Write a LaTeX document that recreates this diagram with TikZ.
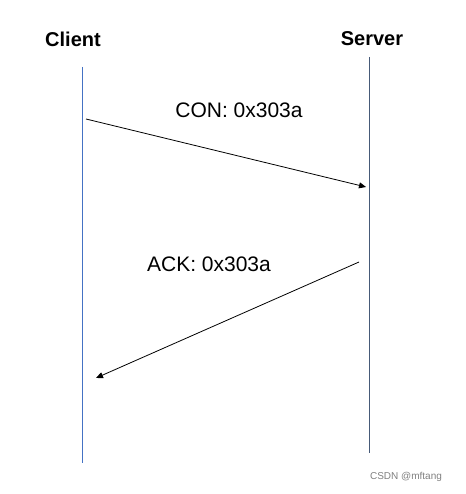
\documentclass[tikz,border=0pt]{standalone}
\usepackage{fontspec}
\setmainfont{Liberation Sans}
\usetikzlibrary{arrows.meta}
\definecolor{clientblue}{RGB}{68,114,196}
\definecolor{serverblue}{RGB}{70,90,120}
\begin{document}
\begin{tikzpicture}[x=1pt,y=-1pt,
  title/.style={font=\fontsize{20}{24}\selectfont\bfseries, inner sep=0pt},
  msglabel/.style={font=\fontsize{21}{25}\selectfont, inner sep=0pt},
  msg/.style={line width=0.8pt, -{Triangle[length=7pt,width=6pt]}},
  lifeline/.style={line width=0.9pt}]
\useasboundingbox (0,0) rectangle (465,494);
\node[title] (client) at (73,39) {Client};
\node[title] (server) at (372,39) {Server};
\coordinate (ctop) at (82,67);
\coordinate (cbot) at (82,463);
\coordinate (stop) at (369,57);
\coordinate (sbot) at (369,453);
\draw[lifeline, clientblue] (ctop) -- (cbot);
\draw[lifeline, serverblue] (stop) -- (sbot);
\coordinate (c1) at (86,119);
\coordinate (s1) at (366,187);
\coordinate (s2) at (359,262);
\coordinate (c2) at (96,378);
\draw[msg] (c1) -- (s1);
\draw[msg] (s2) -- (c2);
\node[msglabel] (con) at (239,110) {CON: 0x303a};
\node[msglabel] (ack) at (209,264) {ACK: 0x303a};
\node[font=\fontsize{10}{12}\selectfont, text=gray, inner sep=0pt] (wm) at (406,477) {CSDN @mftang};
\end{tikzpicture}
\end{document}
